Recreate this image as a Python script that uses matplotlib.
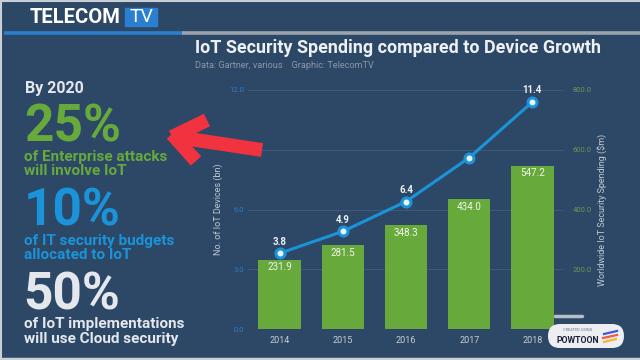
import numpy as np
import matplotlib
matplotlib.use("Agg")
import matplotlib.pyplot as plt
from matplotlib.patches import FancyBboxPatch, Rectangle

plt.rcParams['font.family'] = ['Roboto', 'DejaVu Sans']

BG = '#2d4867'
GREEN = '#68a93c'
BLUE = '#1a93d9'
LIGHT = '#e4e8ec'

years = ['2014', '2015', '2016', '2017', '2018']
devices_bn = [3.8, 4.9, 6.4, 8.6, 11.4]
device_labels = ['3.8', '4.9', '6.4', '', '11.4']
spending_m = [231.9, 281.5, 348.3, 434.0, 547.2]
device_ticks = [0, 3, 6, 9, 12]
spend_ticks = [0, 200, 400, 600, 800]
# the 0.0 on the spending scale sits under the badge in the original
spend_tick_labels = ['', '200.0', '400.0', '600.0', '800.0']

fig = plt.figure(figsize=(6.4, 3.6), dpi=100, facecolor=BG)

# chart: bars on the main axes (right scale), line on the twin (left scale)
ax = fig.add_axes([248 / 640, 31 / 360, 316 / 640, 239 / 360])
ax2 = ax.twinx()
ax.set_facecolor(BG)
x = np.arange(len(years))
ax.bar(x, spending_m, width=0.67, color=GREEN, zorder=2)
for i, v in enumerate(spending_m):
    ax.annotate(f'{v:.1f}', (x[i], v), xytext=(0, -5.5), textcoords='offset points',
                ha='center', va='center', color='#f2f5ee', fontsize=7)
ax.set_ylim(0, 800)
ax.set_xlim(-0.5, len(years) - 0.5)
ax.set_yticks(spend_ticks)
ax.set_yticklabels(spend_tick_labels)
ax.set_xticks(x)
ax.set_xticklabels(years)
ax.tick_params(axis='x', length=0, colors='#c9ced5', labelsize=6.5, pad=5)
ax.grid(axis='y', color='#3f5a7a', lw=0.7)
ax.set_axisbelow(True)

ax2.plot(x, devices_bn, color=BLUE, lw=2.2, marker='o', ms=6.5,
         mfc='#e6f4fc', mec=BLUE, mew=2.2, zorder=3)
for i, v in enumerate(devices_bn):
    if device_labels[i]:
        ax2.annotate(device_labels[i], (x[i], v), xytext=(0, 8.5), textcoords='offset points',
                     ha='center', va='center', color='#eef1f4', fontsize=7, fontweight='bold')
ax2.set_ylim(0, 12)
ax2.set_yticks(device_ticks)
ax2.set_yticklabels([f'{t:.1f}' for t in device_ticks])

# swap sides: spending scale on the right, device scale on the left
ax.yaxis.tick_right()
ax.yaxis.set_label_position('right')
ax2.yaxis.tick_left()
ax2.yaxis.set_label_position('left')
ax.set_ylabel('Worldwide IoT Security Spending ($m)', color='#c3c9d1', fontsize=6.5, labelpad=5)
ax.tick_params(axis='y', length=0, colors='#6e9450', labelsize=5.5, pad=6)
ax2.set_ylabel('No. of IoT Devices (bn)', color='#c3c9d1', fontsize=6.5, labelpad=4)
ax2.tick_params(axis='y', length=0, colors='#2f7bbd', labelsize=5.5, pad=3)
for a in (ax, ax2):
    for s in a.spines.values():
        s.set_visible(False)

# overlay in pixel coordinates for the infographic decoration
ov = fig.add_axes([0, 0, 1, 1], zorder=10)
ov.set_xlim(0, 640)
ov.set_ylim(360, 0)
ov.axis('off')
ov.patch.set_alpha(0)

# frame edges
ov.plot([0, 640], [0.8, 0.8], color='#c9cfd6', lw=1.5)
ov.plot([0.8, 0.8], [0, 360], color='#c9cfd6', lw=1.5)
ov.plot([0, 640], [358.5, 358.5], color='#c9cfd6', lw=2.5)

# logo + header rule
ov.text(30, 17.5, 'TELECOM', color='white', fontsize=14.5, fontweight='bold', ha='left', va='center')
ov.add_patch(Rectangle((125, 8), 32, 18, color='#2a7fd0'))
ov.text(141, 17.5, 'TV', color='white', fontsize=14, ha='center', va='center')
ov.plot([4, 182], [33, 33], color='#2a7fd0', lw=2.6, solid_capstyle='butt')
ov.plot([182, 640], [33, 33], color='#9aa3ad', lw=2.6, solid_capstyle='butt')

ov.text(195, 48, 'IoT Security Spending compared to Device Growth', color='#eef1f4',
        fontsize=12.9, fontweight='bold', ha='left', va='center')
ov.text(195, 65, 'Data: Gartner, various    Graphic: TelecomTV', color='#8a97a7',
        fontsize=6.6, ha='left', va='center')

# left hand facts (y = text baselines)
ov.text(25, 93, 'By 2020', color=LIGHT, fontsize=11.5, fontweight='bold', va='baseline')
ov.text(24, 142, '25%', color=GREEN, fontsize=37, fontweight='bold', va='baseline')
ov.text(24, 161, 'of Enterprise attacks', color=GREEN, fontsize=11, fontweight='bold', va='baseline')
ov.text(24, 175, 'will involve IoT', color=GREEN, fontsize=11, fontweight='bold', va='baseline')
ov.text(24, 226, '10%', color=BLUE, fontsize=37, fontweight='bold', va='baseline')
ov.text(24, 245, 'of IT security budgets', color=BLUE, fontsize=11, fontweight='bold', va='baseline')
ov.text(24, 259, 'allocated to IoT', color=BLUE, fontsize=11, fontweight='bold', va='baseline')
ov.text(23, 309, '50%', color=LIGHT, fontsize=37, fontweight='bold', va='baseline')
ov.text(24, 328, 'of IoT implementations', color=LIGHT, fontsize=11, fontweight='bold', va='baseline')
ov.text(24, 343, 'will use Cloud security', color=LIGHT, fontsize=11, fontweight='bold', va='baseline')

# red arrow
RED = '#f0333f'
ov.plot([262, 176], [150, 137], color=RED, lw=10, solid_capstyle='butt')
ov.plot([207, 172], [120, 137], color=RED, lw=10, solid_capstyle='butt')
ov.plot([196, 172], [161, 134], color=RED, lw=10, solid_capstyle='butt')

# powtoon badge
ov.plot([555, 582], [316, 316], color='#d8dde3', lw=2.5, alpha=0.8, solid_capstyle='round')
ov.add_patch(FancyBboxPatch((548, 324), 76, 24, boxstyle='round,pad=0,rounding_size=12',
                            fc='#eceef2', ec='none'))
ov.text(578, 330, 'CREATED USING', color='#6b7080', fontsize=2.8, ha='center', va='center')
ov.text(578, 340.5, 'POWTOON', color='#1b1f3a', fontsize=6.3, fontweight='bold', ha='center', va='center')
ov.plot([604, 617], [334, 331], color='#3d5bd9', lw=1.6)
ov.plot([603, 617], [338, 335], color='#f25c3a', lw=1.6)
ov.plot([604, 616], [342, 339], color='#f6b633', lw=1.6)

fig.savefig('out.png', dpi=100, facecolor=BG)
